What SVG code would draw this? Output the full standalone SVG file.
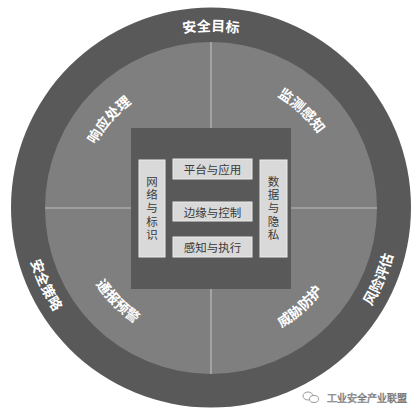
<svg xmlns="http://www.w3.org/2000/svg" width="420" height="417" viewBox="0 0 420 417">
  <style>
    .ring{font-family:"Noto Sans CJK SC","Noto Sans",sans-serif;font-size:14px;font-weight:bold;fill:#ffffff;}
    .box{fill:#d9d9d9;stroke:#ececec;stroke-width:1;}
    .bt{font-family:"Noto Sans CJK SC","Noto Sans",sans-serif;font-size:11.5px;fill:#3a3a3a;text-anchor:middle;dominant-baseline:central;}
    .vt{font-family:"Noto Sans CJK SC","Noto Sans",sans-serif;font-size:11.5px;fill:#3a3a3a;text-anchor:middle;writing-mode:vertical-rl;letter-spacing:1.8px;}
    .div{stroke:#bdbdbd;stroke-width:1.2;fill:none;}
  </style>
  <defs>
    <path id="pTop" d="M57.7,119.5 A177,177 0 0 1 364.3,119.5"/>
    <path id="pLeft" d="M40.6,128.6 A188,188 0 0 0 162.3,389.6"/>
    <path id="pRight" d="M266,387.8 A188,188 0 0 0 378.5,122.6"/>
    <path id="pUL" d="M80.6,228.6 A130,130 0 0 1 213.3,78"/>
    <path id="pUR" d="M195.2,79 A130,130 0 0 1 340.8,214.8"/>
    <path id="pLL" d="M73.5,196 A138,138 0 0 0 223,345.5"/>
    <path id="pLR" d="M191.7,345.6 A139,139 0 0 0 349.9,203.1"/>
  </defs>
  <rect width="420" height="417" fill="#ffffff"/>
  <g id="outer-ring">
    <circle cx="211" cy="207.5" r="200" fill="#595959"/>
  </g>
  <g id="inner-circle">
    <circle cx="211" cy="208" r="166" fill="#7f7f7f"/>
  </g>
  <g id="connectors">
    <line class="div" x1="211" y1="42" x2="211" y2="128"/>
    <line class="div" x1="211" y1="289" x2="211" y2="374"/>
    <line class="div" x1="45" y1="208" x2="131" y2="208"/>
    <line class="div" x1="291" y1="208" x2="377" y2="208"/>
  </g>
  <g id="core">
    <rect x="131" y="128" width="160" height="161" fill="#595959"/>
  </g>
  <g id="node-network">
    <rect class="box" x="139" y="160" width="26" height="97"/>
    <text class="vt" x="152" y="209">网络与标识</text>
  </g>
  <g id="node-platform">
    <rect class="box" x="173" y="159" width="79" height="20"/>
    <text class="bt" x="212.5" y="169">平台与应用</text>
  </g>
  <g id="node-edge">
    <rect class="box" x="173" y="202" width="79" height="19"/>
    <text class="bt" x="212.5" y="211.5">边缘与控制</text>
  </g>
  <g id="node-sense">
    <rect class="box" x="173" y="237" width="79" height="20"/>
    <text class="bt" x="212.5" y="247">感知与执行</text>
  </g>
  <g id="node-data">
    <rect class="box" x="260" y="160" width="27" height="97"/>
    <text class="vt" x="273.5" y="209">数据与隐私</text>
  </g>
  <g id="label-goal">
    <text class="ring"><textPath href="#pTop" startOffset="50%" text-anchor="middle">安全目标</textPath></text>
  </g>
  <g id="label-strategy">
    <text class="ring"><textPath href="#pLeft" startOffset="50%" text-anchor="middle">安全策略</textPath></text>
  </g>
  <g id="label-risk">
    <text class="ring"><textPath href="#pRight" startOffset="50%" text-anchor="middle">风险评估</textPath></text>
  </g>
  <g id="label-response">
    <text class="ring"><textPath href="#pUL" startOffset="50%" text-anchor="middle">响应处理</textPath></text>
  </g>
  <g id="label-monitor">
    <text class="ring"><textPath href="#pUR" startOffset="50%" text-anchor="middle">监测感知</textPath></text>
  </g>
  <g id="label-alert">
    <text class="ring"><textPath href="#pLL" startOffset="50%" text-anchor="middle">通报预警</textPath></text>
  </g>
  <g id="label-defense">
    <text class="ring"><textPath href="#pLR" startOffset="50%" text-anchor="middle">威胁防护</textPath></text>
  </g>
  <g id="watermark">
    <ellipse cx="308" cy="396" rx="5" ry="4" fill="none" stroke="#9a9a9a" stroke-width="1"/>
    <ellipse cx="314" cy="399" rx="4.5" ry="3.5" fill="#ffffff" stroke="#9a9a9a" stroke-width="1"/>
    <text x="327" y="397" font-family="'Noto Sans CJK SC','Noto Sans',sans-serif" font-size="10px" fill="#ffffff" stroke="#7a7a7a" stroke-width="0.6" dominant-baseline="central">工业安全产业联盟</text>
  </g>
</svg>
